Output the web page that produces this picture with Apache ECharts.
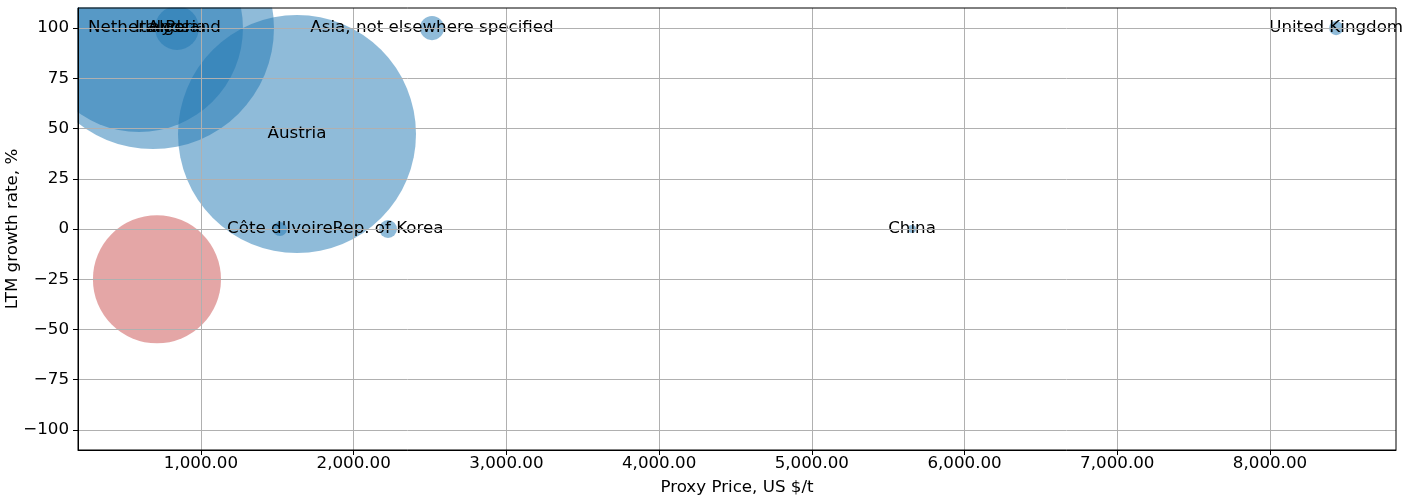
<!DOCTYPE html>
<html>
<head>
<meta charset="utf-8">
<title>Proxy price vs LTM growth</title>
<script src="https://cdn.jsdelivr.net/npm/echarts@6/dist/echarts.min.js"></script>
<style>
  html, body { margin: 0; padding: 0; background: #fff; }
  #chart { width: 1411px; height: 497px; }
</style>
</head>
<body>
<div id="chart"></div>
<script>
var myChart = echarts.init(document.getElementById('chart'));

// data
var countries = ['Netherlands', 'Italy', 'Algeria', 'Poland', 'Austria',
    'Asia, not elsewhere specified', 'United Kingdom', "Côte d'Ivoire", 'Rep. of Korea', 'China'];
var prices = [594, 686, 843, 948, 1629, 2513, 8433, 1517, 2225, 5656];   // US $/t
var growth = [100, 100, 100, 100, 47.3, 100, 100, 0, 0, 0];             // %
var volumes = [10820, 14640, 480, 16, 14160, 145, 50, 50, 80, 16];       // bubble area

// the highlighted (red) bubble, no label
var selPrice = [712];
var selGrowth = [-25];
var selVolume = [4100];

var xTicks = [1000, 2000, 3000, 4000, 5000, 6000, 7000, 8000];
var yTicks = [-100, -75, -50, -25, 0, 25, 50, 75, 100];

var FONT = 'DejaVu Sans';

function bubble(v) {
    return 2 * Math.sqrt(v);
}

function buildData(xs, ys, vs, names) {
    var out = [];
    for (var i = 0; i < xs.length; i++) {
        out.push({ name: names ? names[i] : '', value: [xs[i], ys[i], vs[i]] });
    }
    return out;
}

var option = {
    animation: false,
    grid: {
        left: 78,
        right: 15,
        top: 8,
        bottom: 47,
        outerBoundsMode: 'none',
        containLabel: false,
        show: true,
        borderColor: '#000',
        borderWidth: 1,
        backgroundColor: 'transparent',
        z: 10
    },
    // white masks so bubbles look clipped at the plot edge
    graphic: [
        { type: 'rect', left: 0, top: 0, z: 4, shape: { width: 77.5, height: 497 }, style: { fill: '#fff' } },
        { type: 'rect', left: 0, top: 0, z: 4, shape: { width: 1411, height: 7.5 }, style: { fill: '#fff' } }
    ],
    xAxis: {
        type: 'value',
        min: 195,
        max: 8825,
        z: 6,
        name: 'Proxy Price, US $/t',
        nameLocation: 'middle',
        nameGap: 29,
        nameMoveOverlap: false,
        nameTextStyle: { fontFamily: FONT, fontSize: 16.7, color: '#000' },
        axisLine: { show: true, onZero: false, lineStyle: { color: '#000', width: 1 } },
        axisTick: { show: true, length: 5, customValues: xTicks, lineStyle: { color: '#000' } },
        axisLabel: {
            customValues: xTicks,
            margin: 5,
            fontFamily: FONT,
            fontSize: 16.7,
            color: '#000',
            formatter: function (v) {
                return v.toLocaleString('en-US', { minimumFractionDigits: 2, maximumFractionDigits: 2 });
            }
        },
        splitLine: { show: true, lineStyle: { color: '#b0b0b0', width: 1 } }
    },
    yAxis: {
        type: 'value',
        min: -110,
        max: 110,
        z: 6,
        name: 'LTM growth rate, %',
        nameLocation: 'middle',
        nameGap: 57,
        nameMoveOverlap: false,
        nameTextStyle: { fontFamily: FONT, fontSize: 16.7, color: '#000' },
        axisLine: { show: true, onZero: false, lineStyle: { color: '#000', width: 1 } },
        axisTick: { show: true, length: 5, customValues: yTicks, lineStyle: { color: '#000' } },
        axisLabel: {
            customValues: yTicks,
            margin: 9,
            fontFamily: FONT,
            fontSize: 16.7,
            color: '#000',
            formatter: function (v) {
                return v < 0 ? '\u2212' + Math.abs(v) : String(v);
            }
        },
        splitLine: { show: true, lineStyle: { color: '#b0b0b0', width: 1 } }
    },
    series: [{
        name: 'Selected',
        type: 'scatter',
        z: 2,
        data: buildData(selPrice, selGrowth, selVolume),
        symbolSize: function (val) { return bubble(val[2]); },
        itemStyle: { color: 'rgba(205,92,92,0.55)', opacity: 1 },
        label: { show: false },
        emphasis: { disabled: true }
    }, {
        name: 'Countries',
        type: 'scatter',
        z: 2,
        data: buildData(prices, growth, volumes, countries),
        symbolSize: function (val) { return bubble(val[2]); },
        itemStyle: { color: 'rgba(31,119,180,0.5)', opacity: 1 },
        label: {
            show: true,
            position: 'inside',
            formatter: '{b}',
            fontFamily: FONT,
            fontSize: 16.7,
            color: '#000',
            textBorderWidth: 0,
            textBorderColor: 'transparent'
        },
        labelLayout: { hideOverlap: false },
        emphasis: { disabled: true }
    }]
};

myChart.setOption(option);
</script>
</body>
</html>
